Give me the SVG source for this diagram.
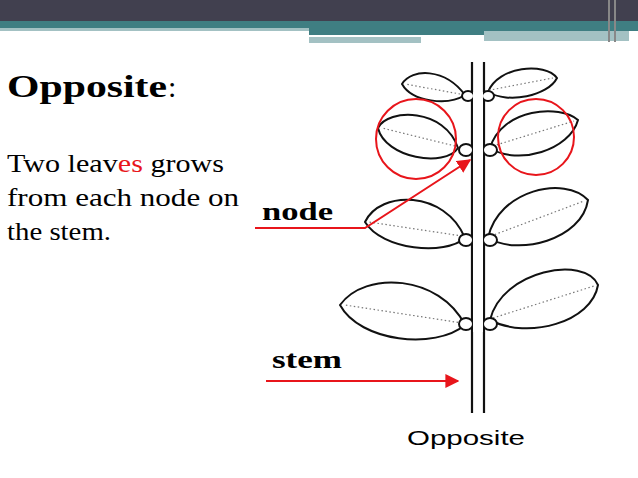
<svg xmlns="http://www.w3.org/2000/svg" width="638" height="478" viewBox="0 0 638 478">
<style>
.leaf{fill:#fff;stroke:#111;stroke-width:2}
.vein{fill:none;stroke:#777;stroke-width:1.2;stroke-dasharray:1.5 2.5}
.red{fill:none;stroke:#e8151b;stroke-width:2}
.ser{font-family:"Liberation Serif",serif;fill:#000}
</style>
<defs><marker id="ah" viewBox="0 0 10 10" refX="9" refY="5" markerWidth="7" markerHeight="7" orient="auto"><path d="M0,0 L10,5 L0,10 z" fill="#e8151b"/></marker></defs>
<rect width="638" height="478" fill="#fff"/>
<rect x="0" y="0" width="638" height="21" fill="#41404f"/>
<rect x="0" y="21" width="638" height="10" fill="#3f7e82"/>
<rect x="0" y="28" width="309" height="3" fill="#a3c1c3"/>
<rect x="309" y="31" width="320" height="4" fill="#3f7e82"/>
<rect x="309" y="35" width="175" height="2" fill="#fff"/>
<rect x="484" y="31" width="145" height="10" fill="#a3c1c3"/>
<rect x="309" y="37" width="112" height="6" fill="#a3c1c3"/>
<rect x="608" y="0" width="2" height="42" fill="#888"/>
<rect x="614" y="0" width="2" height="42" fill="#888"/>
<g id="stem">
<rect x="472" y="62" width="12" height="351" fill="#fff"/>
<path d="M472,62 V413 M484,62 V413" stroke="#111" stroke-width="2.2"/>
</g>
<g id="leaves">
<path class="leaf" d="M465,95 C445,68 412,68 402,84 C412,102 448,106 465,95Z"/>
<path class="leaf" d="M488,92 C498,66 545,62 557,78 C548,96 508,104 488,92Z"/>
<path class="leaf" d="M458,148 C445,108 388,108 378,128 C385,158 445,168 458,148Z"/>
<path class="leaf" d="M490,148 C502,108 560,104 578,120 C570,150 518,166 490,148Z"/>
<path class="leaf" d="M465,238 C445,190 380,190 365,222 C382,250 445,256 465,238Z"/>
<path class="leaf" d="M488,238 C498,190 565,175 588,200 C582,240 518,256 488,238Z"/>
<path class="leaf" d="M465,325 C440,275 365,270 340,305 C360,342 435,350 465,325Z"/>
<path class="leaf" d="M490,320 C502,270 585,255 598,285 C592,322 528,340 490,320Z"/>
<path class="vein" d="M460,94 L405,84 M485,91 L553,78 M455,146 L382,128 M493,146 L574,121 M462,236 L369,222 M491,236 L584,201 M462,323 L345,305 M493,318 L594,286"/>
<g fill="#fff" stroke="#111" stroke-width="2">
<ellipse cx="468" cy="96" rx="6" ry="5"/><ellipse cx="488" cy="96" rx="6" ry="5"/>
<ellipse cx="466" cy="150" rx="7" ry="6"/><ellipse cx="490" cy="150" rx="7" ry="6"/>
<ellipse cx="466" cy="240" rx="7" ry="6"/><ellipse cx="490" cy="240" rx="7" ry="6"/>
<ellipse cx="466" cy="324" rx="7" ry="6"/><ellipse cx="490" cy="324" rx="7" ry="6"/>
</g>
<rect x="473" y="92" width="10" height="240" fill="#fff"/>
</g>
<g id="connectors">
<circle class="red" cx="416" cy="139" r="40"/>
<circle class="red" cx="536" cy="137" r="38"/>
<path class="red" d="M255,228 L365,228 L470,160" marker-end="url(#ah)"/>
<path class="red" d="M266,381 L458,381" marker-end="url(#ah)"/>
</g>
<g id="text">
<text class="ser" x="7" y="97" font-size="32" font-weight="bold" textLength="160" lengthAdjust="spacingAndGlyphs">Opposite</text>
<text class="ser" x="168" y="97" font-size="30">:</text>
<text class="ser" x="7" y="172" font-size="25" textLength="217" lengthAdjust="spacingAndGlyphs">Two leav<tspan fill="#e8151b">es</tspan> grows</text>
<text class="ser" x="7" y="206" font-size="25" textLength="232" lengthAdjust="spacingAndGlyphs">from each node on</text>
<text class="ser" x="7" y="240" font-size="25" textLength="104" lengthAdjust="spacingAndGlyphs">the stem.</text>
<text class="ser" x="262" y="220" font-size="26" font-weight="bold" textLength="71" lengthAdjust="spacingAndGlyphs">node</text>
<text class="ser" x="272" y="368" font-size="26" font-weight="bold" textLength="70" lengthAdjust="spacingAndGlyphs">stem</text>
<text x="407" y="445" font-family="Liberation Sans,Arial,sans-serif" font-size="21" textLength="118" lengthAdjust="spacingAndGlyphs">Opposite</text>
</g>
</svg>
